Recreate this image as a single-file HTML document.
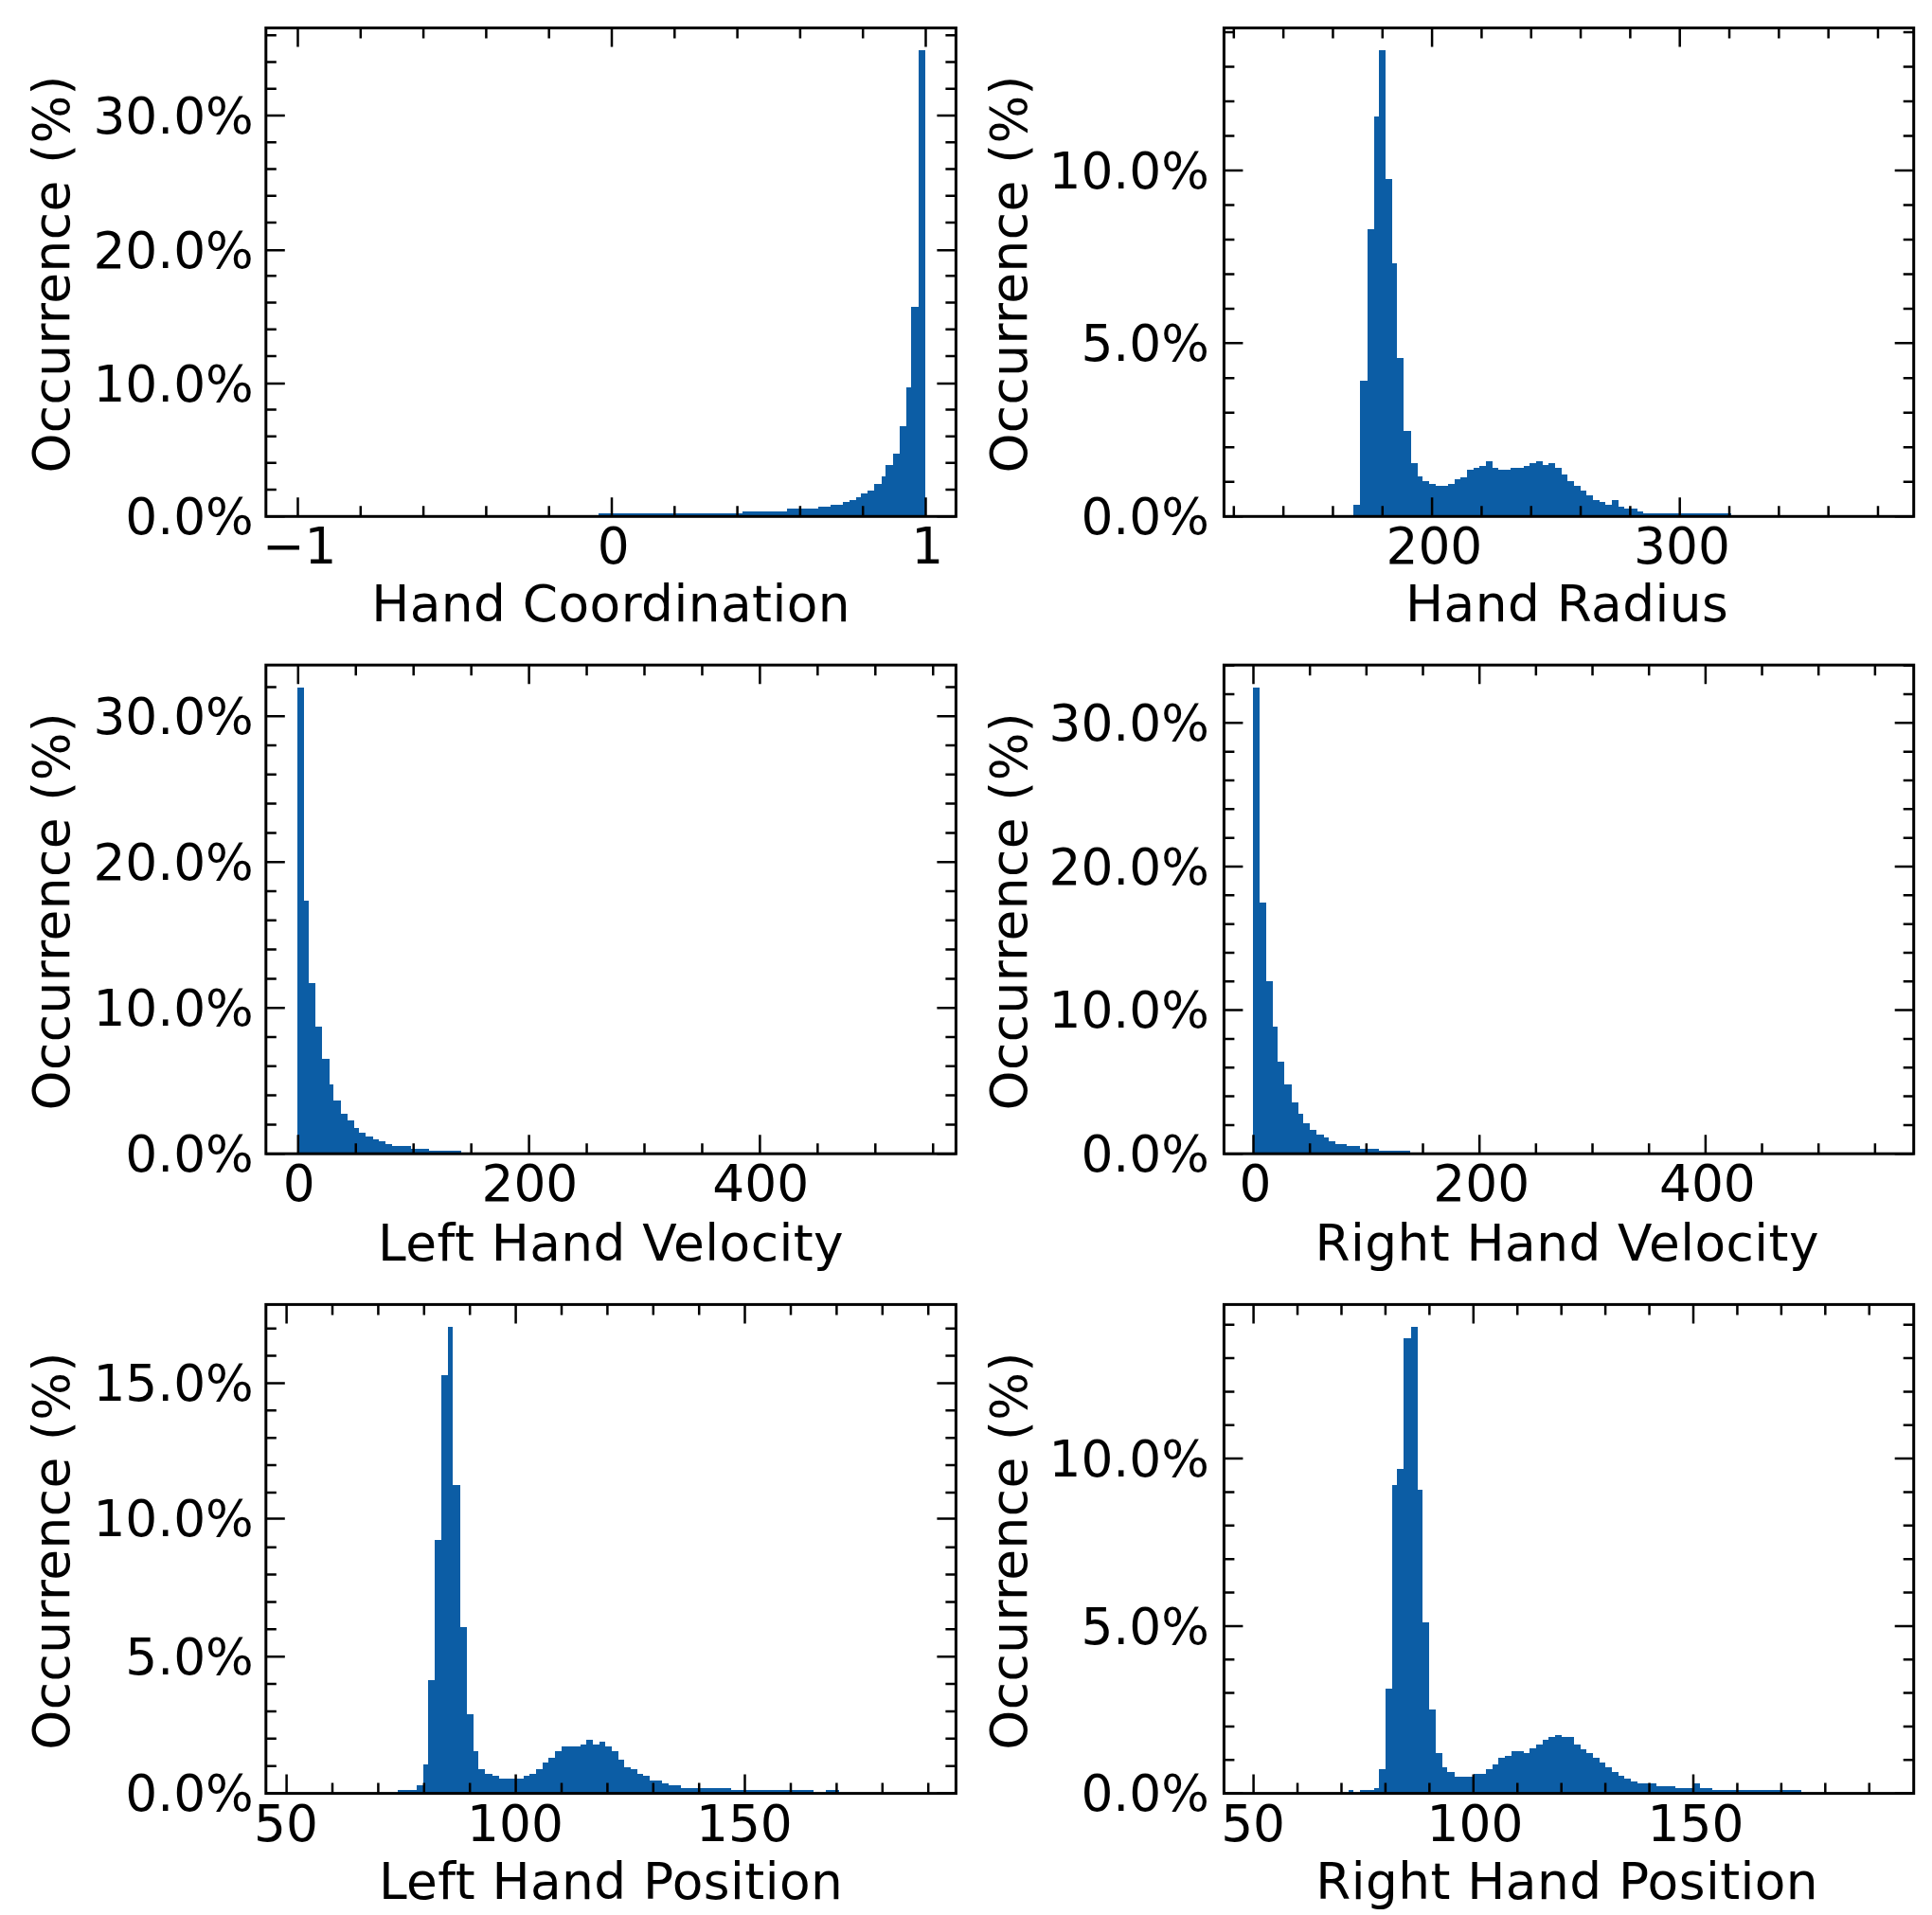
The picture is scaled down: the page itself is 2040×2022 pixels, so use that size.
<!DOCTYPE html>
<html lang="en"><head><meta charset="utf-8"><title>Hand statistics histograms</title>
<style>
html,body{margin:0;padding:0;background:#fff;}
body{width:2040px;height:2022px;overflow:hidden;}
svg{display:block;filter:blur(0.55px);}
text{font-family:"DejaVu Sans","Liberation Sans",sans-serif;font-size:53.33px;fill:#000;letter-spacing:0.45px;}
text.k{letter-spacing:0;}
.b{fill:#0C5DA5;shape-rendering:crispEdges;}
.ax{fill:none;stroke:#000;stroke-width:3.00;stroke-linejoin:miter;}
.t{stroke:#000;stroke-width:2.50;fill:none;}
</style></head><body>
<svg width="2040" height="2022" viewBox="0 0 2040 2022">
<rect x="0" y="0" width="2040" height="2022" fill="#fff"/>
<g>
<path class="b" d="M631.84 545.30V542.30H638.47V542.30H645.10V542.30H651.73V542.30H658.36V542.30H664.99V542.30H671.62V542.30H678.25V542.30H684.88V542.30H691.51V542.30H698.14V542.30H704.77V542.30H711.40V542.30H718.03V542.30H724.66V542.30H731.29V542.30H737.92V542.30H744.55V542.30H751.18V542.30H757.81V542.30H764.44V542.30H771.07V542.30H777.70V542.30H784.33V540.00H790.96V540.00H797.59V540.00H804.22V540.00H810.85V540.00H817.48V540.00H824.11V540.00H830.74V537.20H837.37V537.20H844.00V537.20H850.63V537.20H857.26V537.20H863.89V535.00H870.52V535.00H877.15V532.50H883.78V532.50H889.50V530.00H896.70V527.50H903.80V525.30H908.80V520.50H916.20V518.00H923.30V510.80H930.50V503.30H935.30V491.30H942.80V479.30H950.00V450.30H957.20V409.20H962.20V324.20H969.50V53.10H976.70V545.30Z"/>
<path class="t" d="M380.80 545.30v-11.00M380.80 29.50v11.00M447.10 545.30v-11.00M447.10 29.50v11.00M513.40 545.30v-11.00M513.40 29.50v11.00M579.70 545.30v-11.00M579.70 29.50v11.00M712.30 545.30v-11.00M712.30 29.50v11.00M778.60 545.30v-11.00M778.60 29.50v11.00M844.90 545.30v-11.00M844.90 29.50v11.00M911.20 545.30v-11.00M911.20 29.50v11.00M314.50 545.30v-20.00M314.50 29.50v20.00M646.00 545.30v-20.00M646.00 29.50v20.00M977.50 545.30v-20.00M977.50 29.50v20.00M280.80 517.08h11.00M1009.40 517.08h-11.00M280.80 488.86h11.00M1009.40 488.86h-11.00M280.80 460.64h11.00M1009.40 460.64h-11.00M280.80 432.42h11.00M1009.40 432.42h-11.00M280.80 375.98h11.00M1009.40 375.98h-11.00M280.80 347.76h11.00M1009.40 347.76h-11.00M280.80 319.54h11.00M1009.40 319.54h-11.00M280.80 291.32h11.00M1009.40 291.32h-11.00M280.80 234.88h11.00M1009.40 234.88h-11.00M280.80 206.66h11.00M1009.40 206.66h-11.00M280.80 178.44h11.00M1009.40 178.44h-11.00M280.80 150.22h11.00M1009.40 150.22h-11.00M280.80 93.78h11.00M1009.40 93.78h-11.00M280.80 65.56h11.00M1009.40 65.56h-11.00M280.80 37.34h11.00M1009.40 37.34h-11.00M280.80 545.30h20.00M1009.40 545.30h-20.00M280.80 405.00h20.00M1009.40 405.00h-20.00M280.80 264.20h20.00M1009.40 264.20h-20.00M280.80 122.00h20.00M1009.40 122.00h-20.00"/>
<rect class="ax" x="280.80" y="29.50" width="728.60" height="515.80"/>
<text class="k" x="316.20" y="595.20" text-anchor="middle">−1</text>
<text class="k" x="647.70" y="595.20" text-anchor="middle">0</text>
<text class="k" x="979.20" y="595.20" text-anchor="middle">1</text>
<text class="k" x="267.80" y="563.90" text-anchor="end">0.0%</text>
<text class="k" x="267.80" y="423.60" text-anchor="end">10.0%</text>
<text class="k" x="267.80" y="282.80" text-anchor="end">20.0%</text>
<text class="k" x="267.80" y="140.60" text-anchor="end">30.0%</text>
<text x="645.10" y="656.30" text-anchor="middle">Hand Coordination</text>
<text transform="translate(73.30 289.40) rotate(-90)" text-anchor="middle">Occurrence (%)</text>
</g>
<g>
<path class="b" d="M1429.20 545.30V532.50H1436.30V401.70H1443.70V242.20H1450.80V123.30H1455.80V53.00H1462.80V188.80H1470.00V278.30H1475.00V377.50H1482.20V455.30H1489.50V489.20H1496.70V503.30H1501.70V508.30H1508.96V510.80H1515.62V513.00H1522.27V513.00H1528.92V510.80H1535.58V506.20H1542.23V503.70H1548.89V496.30H1555.54V494.00H1562.20V491.70H1568.86V486.70H1575.51V494.00H1582.16V496.20H1588.82V496.20H1595.47V494.00H1602.13V494.00H1608.78V491.70H1615.44V489.20H1622.09V486.70H1628.75V491.30H1635.40V489.20H1642.06V494.00H1648.71V501.30H1655.37V508.30H1662.02V513.30H1668.68V518.00H1675.34V522.80H1681.99V527.70H1688.64V530.20H1695.30V532.50H1701.95V527.70H1708.61V535.00H1715.26V537.20H1721.92V537.20H1728.57V539.70H1735.23V542.20H1741.88V542.20H1748.54V542.20H1755.19V542.20H1761.85V542.20H1768.50V542.20H1775.16V542.20H1781.82V542.20H1788.47V542.20H1795.12V542.20H1801.78V542.20H1808.43V542.20H1815.09V542.20H1821.74V542.20H1828.40V545.30Z"/>
<path class="t" d="M1302.82 545.30v-11.00M1302.82 29.50v11.00M1355.14 545.30v-11.00M1355.14 29.50v11.00M1407.46 545.30v-11.00M1407.46 29.50v11.00M1459.78 545.30v-11.00M1459.78 29.50v11.00M1564.42 545.30v-11.00M1564.42 29.50v11.00M1616.74 545.30v-11.00M1616.74 29.50v11.00M1669.06 545.30v-11.00M1669.06 29.50v11.00M1721.38 545.30v-11.00M1721.38 29.50v11.00M1826.02 545.30v-11.00M1826.02 29.50v11.00M1878.34 545.30v-11.00M1878.34 29.50v11.00M1930.66 545.30v-11.00M1930.66 29.50v11.00M1982.98 545.30v-11.00M1982.98 29.50v11.00M1512.10 545.30v-20.00M1512.10 29.50v20.00M1773.70 545.30v-20.00M1773.70 29.50v20.00M1292.40 508.77h11.00M2020.70 508.77h-11.00M1292.40 472.24h11.00M2020.70 472.24h-11.00M1292.40 435.71h11.00M2020.70 435.71h-11.00M1292.40 399.18h11.00M2020.70 399.18h-11.00M1292.40 326.12h11.00M2020.70 326.12h-11.00M1292.40 289.59h11.00M2020.70 289.59h-11.00M1292.40 253.06h11.00M2020.70 253.06h-11.00M1292.40 216.53h11.00M2020.70 216.53h-11.00M1292.40 143.47h11.00M2020.70 143.47h-11.00M1292.40 106.94h11.00M2020.70 106.94h-11.00M1292.40 70.41h11.00M2020.70 70.41h-11.00M1292.40 33.88h11.00M2020.70 33.88h-11.00M1292.40 545.30h20.00M2020.70 545.30h-20.00M1292.40 362.30h20.00M2020.70 362.30h-20.00M1292.40 180.00h20.00M2020.70 180.00h-20.00"/>
<rect class="ax" x="1292.40" y="29.50" width="728.30" height="515.80"/>
<text class="k" x="1514.40" y="595.20" text-anchor="middle">200</text>
<text class="k" x="1776.00" y="595.20" text-anchor="middle">300</text>
<text class="k" x="1276.90" y="563.90" text-anchor="end">0.0%</text>
<text class="k" x="1276.90" y="380.90" text-anchor="end">5.0%</text>
<text class="k" x="1276.90" y="198.60" text-anchor="end">10.0%</text>
<text x="1654.65" y="656.30" text-anchor="middle">Hand Radius</text>
<text transform="translate(1084.00 289.40) rotate(-90)" text-anchor="middle">Occurrence (%)</text>
</g>
<g>
<path class="b" d="M313.80 1218.20V725.80H320.80V950.80H325.80V1038.30H333.00V1084.20H340.20V1118.30H347.50V1145.00H352.30V1161.70H359.70V1176.20H366.80V1183.30H374.20V1190.80H379.00V1195.50H386.20V1200.30H393.50V1202.80H400.25V1205.30H406.90V1207.70H413.55V1210.00H420.20V1210.00H426.85V1210.00H433.50V1212.50H440.15V1212.50H446.80V1212.50H453.45V1215.00H460.10V1215.00H466.75V1215.00H473.40V1215.00H480.05V1215.00H486.70V1218.20Z"/>
<path class="t" d="M375.75 1218.20v-11.00M375.75 702.20v11.00M436.70 1218.20v-11.00M436.70 702.20v11.00M497.65 1218.20v-11.00M497.65 702.20v11.00M619.55 1218.20v-11.00M619.55 702.20v11.00M680.50 1218.20v-11.00M680.50 702.20v11.00M741.45 1218.20v-11.00M741.45 702.20v11.00M863.35 1218.20v-11.00M863.35 702.20v11.00M924.30 1218.20v-11.00M924.30 702.20v11.00M985.25 1218.20v-11.00M985.25 702.20v11.00M314.80 1218.20v-20.00M314.80 702.20v20.00M558.60 1218.20v-20.00M558.60 702.20v20.00M802.40 1218.20v-20.00M802.40 702.20v20.00M280.80 1187.40h11.00M1009.40 1187.40h-11.00M280.80 1156.60h11.00M1009.40 1156.60h-11.00M280.80 1125.80h11.00M1009.40 1125.80h-11.00M280.80 1095.00h11.00M1009.40 1095.00h-11.00M280.80 1033.40h11.00M1009.40 1033.40h-11.00M280.80 1002.60h11.00M1009.40 1002.60h-11.00M280.80 971.80h11.00M1009.40 971.80h-11.00M280.80 941.00h11.00M1009.40 941.00h-11.00M280.80 879.40h11.00M1009.40 879.40h-11.00M280.80 848.60h11.00M1009.40 848.60h-11.00M280.80 817.80h11.00M1009.40 817.80h-11.00M280.80 787.00h11.00M1009.40 787.00h-11.00M280.80 725.40h11.00M1009.40 725.40h-11.00M280.80 1218.20h20.00M1009.40 1218.20h-20.00M280.80 1064.20h20.00M1009.40 1064.20h-20.00M280.80 910.20h20.00M1009.40 910.20h-20.00M280.80 756.30h20.00M1009.40 756.30h-20.00"/>
<rect class="ax" x="280.80" y="702.20" width="728.60" height="516.00"/>
<text class="k" x="315.60" y="1268.10" text-anchor="middle">0</text>
<text class="k" x="559.40" y="1268.10" text-anchor="middle">200</text>
<text class="k" x="803.20" y="1268.10" text-anchor="middle">400</text>
<text class="k" x="267.80" y="1236.80" text-anchor="end">0.0%</text>
<text class="k" x="267.80" y="1082.80" text-anchor="end">10.0%</text>
<text class="k" x="267.80" y="928.80" text-anchor="end">20.0%</text>
<text class="k" x="267.80" y="774.90" text-anchor="end">30.0%</text>
<text x="645.10" y="1330.50" text-anchor="middle">Left Hand Velocity</text>
<text transform="translate(73.30 962.20) rotate(-90)" text-anchor="middle">Occurrence (%)</text>
</g>
<g>
<path class="b" d="M1322.70 1218.20V725.80H1330.00V953.30H1337.00V1035.80H1344.30V1084.20H1349.20V1120.50H1356.30V1145.00H1363.70V1164.20H1371.00V1176.20H1375.80V1185.80H1383.00V1193.00H1390.20V1198.00H1397.50V1200.50H1402.50V1205.30H1409.70V1207.70H1415.80V1207.70H1422.45V1210.00H1429.10V1210.00H1435.75V1212.50H1442.40V1212.50H1449.05V1212.50H1455.70V1215.00H1462.35V1215.00H1469.00V1215.00H1475.65V1215.00H1482.30V1215.00H1488.95V1218.20Z"/>
<path class="t" d="M1383.17 1218.20v-11.00M1383.17 702.20v11.00M1442.84 1218.20v-11.00M1442.84 702.20v11.00M1502.51 1218.20v-11.00M1502.51 702.20v11.00M1621.85 1218.20v-11.00M1621.85 702.20v11.00M1681.52 1218.20v-11.00M1681.52 702.20v11.00M1741.19 1218.20v-11.00M1741.19 702.20v11.00M1860.53 1218.20v-11.00M1860.53 702.20v11.00M1920.20 1218.20v-11.00M1920.20 702.20v11.00M1979.87 1218.20v-11.00M1979.87 702.20v11.00M1323.50 1218.20v-20.00M1323.50 702.20v20.00M1562.20 1218.20v-20.00M1562.20 702.20v20.00M1800.90 1218.20v-20.00M1800.90 702.20v20.00M1292.40 1187.88h11.00M2020.70 1187.88h-11.00M1292.40 1157.56h11.00M2020.70 1157.56h-11.00M1292.40 1127.24h11.00M2020.70 1127.24h-11.00M1292.40 1096.92h11.00M2020.70 1096.92h-11.00M1292.40 1036.28h11.00M2020.70 1036.28h-11.00M1292.40 1005.96h11.00M2020.70 1005.96h-11.00M1292.40 975.64h11.00M2020.70 975.64h-11.00M1292.40 945.32h11.00M2020.70 945.32h-11.00M1292.40 884.68h11.00M2020.70 884.68h-11.00M1292.40 854.36h11.00M2020.70 854.36h-11.00M1292.40 824.04h11.00M2020.70 824.04h-11.00M1292.40 793.72h11.00M2020.70 793.72h-11.00M1292.40 733.08h11.00M2020.70 733.08h-11.00M1292.40 702.76h11.00M2020.70 702.76h-11.00M1292.40 1218.20h20.00M2020.70 1218.20h-20.00M1292.40 1066.60h20.00M2020.70 1066.60h-20.00M1292.40 915.00h20.00M2020.70 915.00h-20.00M1292.40 763.30h20.00M2020.70 763.30h-20.00"/>
<rect class="ax" x="1292.40" y="702.20" width="728.30" height="516.00"/>
<text class="k" x="1325.50" y="1268.10" text-anchor="middle">0</text>
<text class="k" x="1564.20" y="1268.10" text-anchor="middle">200</text>
<text class="k" x="1802.90" y="1268.10" text-anchor="middle">400</text>
<text class="k" x="1276.90" y="1236.80" text-anchor="end">0.0%</text>
<text class="k" x="1276.90" y="1085.20" text-anchor="end">10.0%</text>
<text class="k" x="1276.90" y="933.60" text-anchor="end">20.0%</text>
<text class="k" x="1276.90" y="781.90" text-anchor="end">30.0%</text>
<text x="1654.65" y="1330.50" text-anchor="middle">Right Hand Velocity</text>
<text transform="translate(1084.00 962.20) rotate(-90)" text-anchor="middle">Occurrence (%)</text>
</g>
<g>
<path class="b" d="M419.50 1893.60V1890.00H426.16V1890.00H432.82V1890.00H439.50V1885.00H447.00V1863.30H451.80V1773.80H459.00V1625.80H466.20V1452.20H473.30V1401.20H478.00V1568.30H485.50V1718.30H492.70V1810.00H500.00V1848.80H504.80V1868.00H512.20V1872.80H519.50V1875.30H526.70V1877.70H532.72V1877.70H539.38V1877.70H546.04V1877.70H552.70V1875.30H559.36V1872.80H566.02V1868.00H572.68V1860.80H579.34V1856.20H586.00V1848.80H592.66V1844.00H599.32V1844.00H605.98V1844.00H612.64V1841.70H619.30V1836.70H625.96V1841.70H632.62V1839.20H639.28V1844.00H645.94V1848.80H652.60V1858.30H659.26V1865.80H665.92V1868.00H672.58V1872.80H679.24V1875.30H685.90V1880.30H692.56V1880.30H699.22V1882.50H705.88V1885.00H712.54V1885.00H719.20V1888.00H725.86V1888.00H732.52V1888.00H739.18V1888.00H745.84V1888.00H752.50V1888.00H759.16V1888.00H765.82V1888.00H772.48V1890.30H779.14V1890.30H785.80V1890.30H792.46V1890.30H799.12V1890.30H805.78V1890.30H812.44V1890.30H819.10V1890.30H825.76V1890.30H832.42V1890.30H839.08V1890.30H845.74V1890.30H852.40V1890.30H859.06V1893.60Z M872.38 1893.60V1890.30H879.04V1890.30H885.70V1893.60Z"/>
<path class="t" d="M351.00 1893.60v-11.00M351.00 1377.40v11.00M399.40 1893.60v-11.00M399.40 1377.40v11.00M447.80 1893.60v-11.00M447.80 1377.40v11.00M496.20 1893.60v-11.00M496.20 1377.40v11.00M593.00 1893.60v-11.00M593.00 1377.40v11.00M641.40 1893.60v-11.00M641.40 1377.40v11.00M689.80 1893.60v-11.00M689.80 1377.40v11.00M738.20 1893.60v-11.00M738.20 1377.40v11.00M835.00 1893.60v-11.00M835.00 1377.40v11.00M883.40 1893.60v-11.00M883.40 1377.40v11.00M931.80 1893.60v-11.00M931.80 1377.40v11.00M980.20 1893.60v-11.00M980.20 1377.40v11.00M302.60 1893.60v-20.00M302.60 1377.40v20.00M544.60 1893.60v-20.00M544.60 1377.40v20.00M786.50 1893.60v-20.00M786.50 1377.40v20.00M280.80 1864.72h11.00M1009.40 1864.72h-11.00M280.80 1835.84h11.00M1009.40 1835.84h-11.00M280.80 1806.96h11.00M1009.40 1806.96h-11.00M280.80 1778.08h11.00M1009.40 1778.08h-11.00M280.80 1720.32h11.00M1009.40 1720.32h-11.00M280.80 1691.44h11.00M1009.40 1691.44h-11.00M280.80 1662.56h11.00M1009.40 1662.56h-11.00M280.80 1633.68h11.00M1009.40 1633.68h-11.00M280.80 1575.92h11.00M1009.40 1575.92h-11.00M280.80 1547.04h11.00M1009.40 1547.04h-11.00M280.80 1518.16h11.00M1009.40 1518.16h-11.00M280.80 1489.28h11.00M1009.40 1489.28h-11.00M280.80 1431.52h11.00M1009.40 1431.52h-11.00M280.80 1402.64h11.00M1009.40 1402.64h-11.00M280.80 1893.60h20.00M1009.40 1893.60h-20.00M280.80 1749.20h20.00M1009.40 1749.20h-20.00M280.80 1603.60h20.00M1009.40 1603.60h-20.00M280.80 1460.40h20.00M1009.40 1460.40h-20.00"/>
<rect class="ax" x="280.80" y="1377.40" width="728.60" height="516.20"/>
<text class="k" x="302.00" y="1943.50" text-anchor="middle">50</text>
<text class="k" x="544.00" y="1943.50" text-anchor="middle">100</text>
<text class="k" x="785.90" y="1943.50" text-anchor="middle">150</text>
<text class="k" x="267.80" y="1912.20" text-anchor="end">0.0%</text>
<text class="k" x="267.80" y="1767.80" text-anchor="end">5.0%</text>
<text class="k" x="267.80" y="1622.20" text-anchor="end">10.0%</text>
<text class="k" x="267.80" y="1479.00" text-anchor="end">15.0%</text>
<text x="645.10" y="2004.60" text-anchor="middle">Left Hand Position</text>
<text transform="translate(73.30 1637.50) rotate(-90)" text-anchor="middle">Occurrence (%)</text>
</g>
<g>
<path class="b" d="M1424.20 1893.60V1890.00H1429.20V1893.60Z M1436.30 1893.60V1890.00H1442.46V1890.00H1450.80V1887.50H1455.80V1868.00H1463.00V1783.30H1470.00V1568.30H1475.00V1551.20H1482.20V1413.30H1489.50V1401.20H1496.70V1573.00H1501.70V1713.30H1508.80V1805.30H1516.20V1851.30H1523.30V1865.80H1528.00V1870.80H1535.50V1875.60H1542.29V1875.60H1548.94V1875.60H1555.60V1873.00H1562.26V1873.00H1568.91V1868.00H1575.57V1863.30H1582.22V1856.20H1588.88V1853.70H1595.53V1848.80H1602.18V1848.80H1608.84V1851.30H1615.49V1846.30H1622.15V1841.70H1628.81V1837.00H1635.46V1834.30H1642.12V1832.00H1648.77V1834.30H1655.42V1834.30H1662.08V1841.70H1668.74V1846.70H1675.39V1851.30H1682.05V1856.20H1688.70V1861.00H1695.36V1865.80H1702.01V1870.50H1708.66V1875.30H1715.32V1877.70H1721.97V1880.90H1728.63V1883.40H1735.29V1883.40H1741.94V1883.40H1748.60V1885.60H1755.25V1885.60H1761.90V1885.60H1768.56V1888.10H1775.22V1888.10H1781.87V1888.10H1788.53V1883.40H1795.18V1888.10H1801.84V1888.10H1808.49V1890.40H1815.14V1890.40H1821.80V1890.40H1828.45V1890.40H1835.11V1890.40H1841.77V1890.40H1848.42V1890.40H1855.08V1890.40H1861.73V1890.40H1868.38V1890.40H1875.04V1890.40H1881.69V1890.40H1888.35V1890.40H1895.01V1890.40H1901.66V1893.60Z"/>
<path class="t" d="M1370.04 1893.60v-11.00M1370.04 1377.40v11.00M1416.48 1893.60v-11.00M1416.48 1377.40v11.00M1462.92 1893.60v-11.00M1462.92 1377.40v11.00M1509.36 1893.60v-11.00M1509.36 1377.40v11.00M1602.24 1893.60v-11.00M1602.24 1377.40v11.00M1648.68 1893.60v-11.00M1648.68 1377.40v11.00M1695.12 1893.60v-11.00M1695.12 1377.40v11.00M1741.56 1893.60v-11.00M1741.56 1377.40v11.00M1834.44 1893.60v-11.00M1834.44 1377.40v11.00M1880.88 1893.60v-11.00M1880.88 1377.40v11.00M1927.32 1893.60v-11.00M1927.32 1377.40v11.00M1973.76 1893.60v-11.00M1973.76 1377.40v11.00M1323.60 1893.60v-20.00M1323.60 1377.40v20.00M1555.80 1893.60v-20.00M1555.80 1377.40v20.00M1788.00 1893.60v-20.00M1788.00 1377.40v20.00M1292.40 1858.25h11.00M2020.70 1858.25h-11.00M1292.40 1822.90h11.00M2020.70 1822.90h-11.00M1292.40 1787.55h11.00M2020.70 1787.55h-11.00M1292.40 1752.20h11.00M2020.70 1752.20h-11.00M1292.40 1681.50h11.00M2020.70 1681.50h-11.00M1292.40 1646.15h11.00M2020.70 1646.15h-11.00M1292.40 1610.80h11.00M2020.70 1610.80h-11.00M1292.40 1575.45h11.00M2020.70 1575.45h-11.00M1292.40 1504.75h11.00M2020.70 1504.75h-11.00M1292.40 1469.40h11.00M2020.70 1469.40h-11.00M1292.40 1434.05h11.00M2020.70 1434.05h-11.00M1292.40 1398.70h11.00M2020.70 1398.70h-11.00M1292.40 1893.60h20.00M2020.70 1893.60h-20.00M1292.40 1716.90h20.00M2020.70 1716.90h-20.00M1292.40 1540.00h20.00M2020.70 1540.00h-20.00"/>
<rect class="ax" x="1292.40" y="1377.40" width="728.30" height="516.20"/>
<text class="k" x="1323.10" y="1943.50" text-anchor="middle">50</text>
<text class="k" x="1557.50" y="1943.50" text-anchor="middle">100</text>
<text class="k" x="1790.50" y="1943.50" text-anchor="middle">150</text>
<text class="k" x="1276.90" y="1912.20" text-anchor="end">0.0%</text>
<text class="k" x="1276.90" y="1735.50" text-anchor="end">5.0%</text>
<text class="k" x="1276.90" y="1558.60" text-anchor="end">10.0%</text>
<text x="1654.65" y="2004.60" text-anchor="middle">Right Hand Position</text>
<text transform="translate(1084.00 1637.50) rotate(-90)" text-anchor="middle">Occurrence (%)</text>
</g>
</svg>
</body></html>
